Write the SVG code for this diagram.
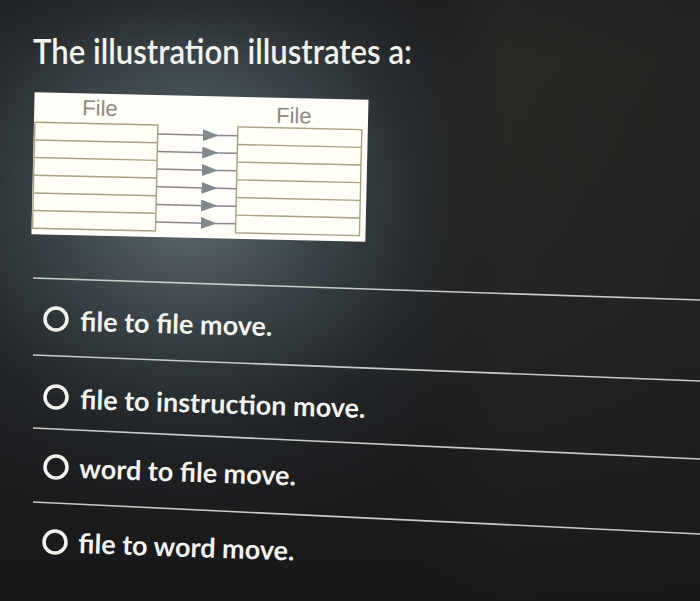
<svg xmlns="http://www.w3.org/2000/svg" width="700" height="601" viewBox="0 0 700 601">
<defs>
<radialGradient id="glow" cx="190" cy="220" r="330" gradientUnits="userSpaceOnUse">
<stop offset="0" stop-color="#6b7a80"/>
<stop offset="0.35" stop-color="#47555a"/>
<stop offset="0.7" stop-color="#2a2f32"/>
<stop offset="1" stop-color="#1e1f21"/>
</radialGradient>
<linearGradient id="brown" x1="0" y1="0" x2="1" y2="0">
<stop offset="0.6" stop-color="#2b2926" stop-opacity="0"/>
<stop offset="0.72" stop-color="#2b2926" stop-opacity="0.95"/>
<stop offset="1" stop-color="#262422" stop-opacity="1"/>
</linearGradient>
<linearGradient id="dark" x1="0" y1="0" x2="0" y2="1">
<stop offset="0" stop-color="#1c1d1f" stop-opacity="0.3"/>
<stop offset="0.1" stop-color="#1c1d1f" stop-opacity="0"/>
<stop offset="0.5" stop-color="#1c1d1f" stop-opacity="0.3"/>
<stop offset="1" stop-color="#17181a" stop-opacity="0.9"/>
</linearGradient>
<marker id="ah" viewBox="0 0 16 12" refX="16" refY="6" markerWidth="16" markerHeight="12" markerUnits="userSpaceOnUse" orient="auto">
<path d="M0,0 L16,6 L0,12 Z" fill="#7f8a8c"/>
</marker>
<style>
.title{font-family:Lato,"Open Sans",sans-serif;font-size:34px;fill:#f2f2ee;font-weight:600}
.opt{font-family:Lato,"Open Sans",sans-serif;font-size:27px;fill:#f4f4ef;font-weight:700}
.radio{fill:none;stroke:#f4f4ef;stroke-width:3.5}
.rule{stroke:#c9cbc8;stroke-width:1.6}
.box{fill:#fffef6;stroke:#a99f80;stroke-width:1.4}
.div{stroke:#a99f80;stroke-width:1.4}
.conn{stroke:#8c8880;stroke-width:1.5}
.lbl{font-family:"Liberation Sans",sans-serif;font-size:22px;fill:#8e8a82}
</style>
</defs>
<rect width="700" height="601" fill="url(#glow)"/>
<rect width="700" height="601" fill="url(#brown)"/>
<rect width="700" height="601" fill="url(#dark)"/>
<text class="title" x="33" y="64" textLength="379" lengthAdjust="spacingAndGlyphs">The illustration illustrates a:</text>
<g transform="rotate(1.3 200 165)">
<rect x="33" y="96" width="334" height="142" fill="#fffef8"/>
<g id="file-left">
<text class="lbl" x="81" y="118">File</text>
<rect class="box" x="34" y="126" width="123" height="106"/>
<line class="div" x1="34" y1="143.7" x2="157" y2="143.7"/>
<line class="div" x1="34" y1="161.3" x2="157" y2="161.3"/>
<line class="div" x1="34" y1="179" x2="157" y2="179"/>
<line class="div" x1="34" y1="196.7" x2="157" y2="196.7"/>
<line class="div" x1="34" y1="214.3" x2="157" y2="214.3"/>
</g>
<g id="file-right">
<text class="lbl" x="275" y="121">File</text>
<rect class="box" x="237" y="126" width="124" height="106"/>
<line class="div" x1="237" y1="143.7" x2="361" y2="143.7"/>
<line class="div" x1="237" y1="161.3" x2="361" y2="161.3"/>
<line class="div" x1="237" y1="179" x2="361" y2="179"/>
<line class="div" x1="237" y1="196.7" x2="361" y2="196.7"/>
<line class="div" x1="237" y1="214.3" x2="361" y2="214.3"/>
</g>
<g id="connectors">
<line class="conn" x1="157" y1="135" x2="218" y2="135" marker-end="url(#ah)"/>
<line class="conn" x1="218" y1="135" x2="237" y2="135"/>
<line class="conn" x1="157" y1="152.5" x2="218" y2="152.5" marker-end="url(#ah)"/>
<line class="conn" x1="218" y1="152.5" x2="237" y2="152.5"/>
<line class="conn" x1="157" y1="170" x2="218" y2="170" marker-end="url(#ah)"/>
<line class="conn" x1="218" y1="170" x2="237" y2="170"/>
<line class="conn" x1="157" y1="187.8" x2="218" y2="187.8" marker-end="url(#ah)"/>
<line class="conn" x1="218" y1="187.8" x2="237" y2="187.8"/>
<line class="conn" x1="157" y1="205.5" x2="218" y2="205.5" marker-end="url(#ah)"/>
<line class="conn" x1="218" y1="205.5" x2="237" y2="205.5"/>
<line class="conn" x1="157" y1="223" x2="218" y2="223" marker-end="url(#ah)"/>
<line class="conn" x1="218" y1="223" x2="237" y2="223"/>
</g>
</g>
<line class="rule" x1="33" y1="278" x2="700" y2="300"/>
<line class="rule" x1="33" y1="355" x2="700" y2="381"/>
<line class="rule" x1="33" y1="428" x2="700" y2="459"/>
<line class="rule" x1="33" y1="502" x2="700" y2="534"/>
<g id="opt1">
<circle class="radio" cx="56" cy="319" r="11"/>
<text class="opt" x="80" y="331" transform="rotate(1.5 80 331)">file to file move.</text>
</g>
<g id="opt2">
<circle class="radio" cx="56" cy="397" r="11"/>
<text class="opt" x="80" y="409" transform="rotate(1.8 80 409)">file to instruction move.</text>
</g>
<g id="opt3">
<circle class="radio" cx="56" cy="467" r="11"/>
<text class="opt" x="79" y="478" transform="rotate(2 79 478)">word to file move.</text>
</g>
<g id="opt4">
<circle class="radio" cx="55" cy="542" r="11"/>
<text class="opt" x="78" y="553" transform="rotate(2 78 553)">file to word move.</text>
</g>
</svg>
